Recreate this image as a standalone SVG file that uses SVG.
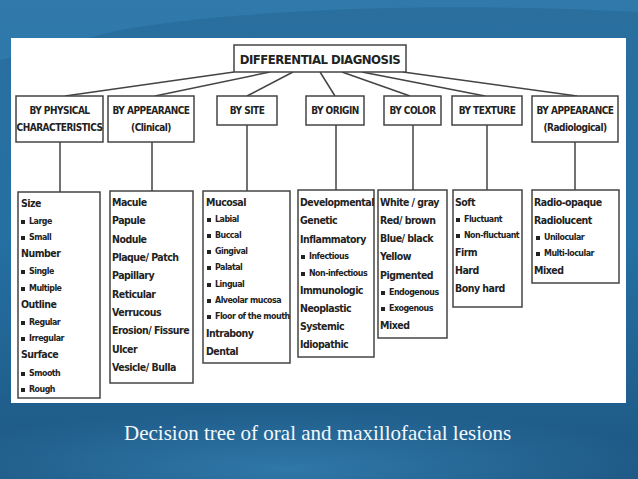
<svg xmlns="http://www.w3.org/2000/svg" xmlns:xlink="http://www.w3.org/1999/xlink" width="638" height="479" viewBox="0 0 638 479">
<defs>
<linearGradient id="bg" x1="0" y1="0" x2="0" y2="1">
<stop offset="0" stop-color="#2a6f9e"/><stop offset="0.5" stop-color="#2470a2"/><stop offset="1" stop-color="#1e5783"/>
</linearGradient>
<radialGradient id="glow" cx="0.45" cy="0.9" r="0.6">
<stop offset="0" stop-color="#3a8dc0" stop-opacity="0.6"/><stop offset="1" stop-color="#3a8dc0" stop-opacity="0"/>
</radialGradient>
<rect id="b" width="4" height="4" fill="#222"/>
</defs>
<style>
.box{fill:#fff;stroke:#444;stroke-width:1.5}
.c{stroke:#444;stroke-width:1.5;fill:none}
text{font-family:"DejaVu Sans Condensed","Liberation Sans",sans-serif;font-weight:bold;fill:#222;font-stretch:condensed;letter-spacing:-0.5px}
.h{font-size:10px;text-anchor:middle}
.m{font-size:10.5px}
.s{font-size:8.8px}
.cap{font-family:"Liberation Serif",serif;font-weight:normal;font-size:21px;fill:#f4f8fb;letter-spacing:0}
</style>
<rect width="638" height="479" fill="url(#bg)"/>
<rect y="380" width="638" height="99" fill="url(#glow)"/>
<path d="M0 0 H638 V12 C450 2 250 8 120 30 L0 60 Z" fill="#3b8cbf" opacity="0.35"/>
<rect x="11" y="38" width="615" height="365" fill="#fff"/>
<g id="connectors">
<path class="c" d="M234 72 L65 96 M270 72 L155 96 M293 72 L247 96 M320 72 L335 96 M342 72 L410 96 M362 72 L485 96 M403 72 L577 96"/>
<path class="c" d="M60 142 V192 M152 142 V191 M247 125 V191 M336 125 V190 M413 125 V190 M487 125 V190 M575 142 V190"/>
</g>
<g id="root"><rect class="box" x="234" y="45" width="172" height="27"/><text class="h" x="320" y="64" style="font-size:13px">DIFFERENTIAL DIAGNOSIS</text></g>
<g id="cat-physical"><rect class="box" x="16" y="96" width="87" height="46"/><text class="h" x="59.5" y="114">BY PHYSICAL</text><text class="h" x="59.5" y="131">CHARACTERISTICS</text></g>
<g id="cat-appearance"><rect class="box" x="108" y="96" width="86" height="46"/><text class="h" x="151" y="114">BY APPEARANCE</text><text class="h" x="151" y="131">(Clinical)</text></g>
<g id="cat-site"><rect class="box" x="217" y="96" width="60" height="29"/><text class="h" x="247" y="114">BY SITE</text></g>
<g id="cat-origin"><rect class="box" x="306" y="96" width="58" height="29"/><text class="h" x="335" y="114">BY ORIGIN</text></g>
<g id="cat-color"><rect class="box" x="384" y="96" width="57" height="29"/><text class="h" x="412.5" y="114">BY COLOR</text></g>
<g id="cat-texture"><rect class="box" x="452" y="96" width="70" height="29"/><text class="h" x="487" y="114">BY TEXTURE</text></g>
<g id="cat-radio"><rect class="box" x="532" y="96" width="86" height="46"/><text class="h" x="575" y="114">BY APPEARANCE</text><text class="h" x="575" y="131">(Radiological)</text></g>

<g id="list-physical"><rect class="box" x="18" y="192" width="82" height="206"/>
<text class="m" x="21" y="207">Size</text>
<use xlink:href="#b" x="21" y="220"/><text class="s" x="29" y="224">Large</text>
<use xlink:href="#b" x="21" y="236"/><text class="s" x="29" y="240">Small</text>
<text class="m" x="21" y="257">Number</text>
<use xlink:href="#b" x="21" y="270"/><text class="s" x="29" y="274">Single</text>
<use xlink:href="#b" x="21" y="287"/><text class="s" x="29" y="291">Multiple</text>
<text class="m" x="21" y="308">Outline</text>
<use xlink:href="#b" x="21" y="321"/><text class="s" x="29" y="325">Regular</text>
<use xlink:href="#b" x="21" y="337"/><text class="s" x="29" y="341">Irregular</text>
<text class="m" x="21" y="358">Surface</text>
<use xlink:href="#b" x="21" y="372"/><text class="s" x="29" y="376">Smooth</text>
<use xlink:href="#b" x="21" y="388"/><text class="s" x="29" y="392">Rough</text>
</g>
<g id="list-appearance"><rect class="box" x="110" y="191" width="83" height="192"/>
<text class="m" x="112" y="206">Macule</text>
<text class="m" x="112" y="224">Papule</text>
<text class="m" x="112" y="243">Nodule</text>
<text class="m" x="112" y="261">Plaque/ Patch</text>
<text class="m" x="112" y="279">Papillary</text>
<text class="m" x="112" y="298">Reticular</text>
<text class="m" x="112" y="316">Verrucous</text>
<text class="m" x="112" y="334">Erosion/ Fissure</text>
<text class="m" x="112" y="353">Ulcer</text>
<text class="m" x="112" y="371">Vesicle/ Bulla</text>
</g>
<g id="list-site"><rect class="box" x="203" y="191" width="87" height="172"/>
<text class="m" x="206" y="206">Mucosal</text>
<use xlink:href="#b" x="207" y="218"/><text class="s" x="215" y="222">Labial</text>
<use xlink:href="#b" x="207" y="234"/><text class="s" x="215" y="238">Buccal</text>
<use xlink:href="#b" x="207" y="250"/><text class="s" x="215" y="254">Gingival</text>
<use xlink:href="#b" x="207" y="266"/><text class="s" x="215" y="270">Palatal</text>
<use xlink:href="#b" x="207" y="283"/><text class="s" x="215" y="287">Lingual</text>
<use xlink:href="#b" x="207" y="299"/><text class="s" x="215" y="303">Alveolar mucosa</text>
<use xlink:href="#b" x="207" y="315"/><text class="s" x="215" y="319">Floor of the mouth</text>
<text class="m" x="206" y="337">Intrabony</text>
<text class="m" x="206" y="355">Dental</text>
</g>
<g id="list-origin"><rect class="box" x="298" y="190" width="76" height="167"/>
<text class="m" x="300" y="206">Developmental</text>
<text class="m" x="300" y="224">Genetic</text>
<text class="m" x="300" y="243">Inflammatory</text>
<use xlink:href="#b" x="301" y="255"/><text class="s" x="309" y="259">Infectious</text>
<use xlink:href="#b" x="301" y="272"/><text class="s" x="309" y="276">Non-infectious</text>
<text class="m" x="300" y="294">Immunologic</text>
<text class="m" x="300" y="312">Neoplastic</text>
<text class="m" x="300" y="330">Systemic</text>
<text class="m" x="300" y="348">Idiopathic</text>
</g>
<g id="list-color"><rect class="box" x="378" y="190" width="69" height="148"/>
<text class="m" x="380" y="206">White / gray</text>
<text class="m" x="380" y="224">Red/ brown</text>
<text class="m" x="380" y="242">Blue/ black</text>
<text class="m" x="380" y="260">Yellow</text>
<text class="m" x="380" y="279">Pigmented</text>
<use xlink:href="#b" x="381" y="291"/><text class="s" x="389" y="295">Endogenous</text>
<use xlink:href="#b" x="381" y="307"/><text class="s" x="389" y="311">Exogenous</text>
<text class="m" x="380" y="329">Mixed</text>
</g>
<g id="list-texture"><rect class="box" x="453" y="190" width="69" height="117"/>
<text class="m" x="455" y="206">Soft</text>
<use xlink:href="#b" x="456" y="218"/><text class="s" x="464" y="222">Fluctuant</text>
<use xlink:href="#b" x="456" y="234"/><text class="s" x="464" y="238">Non-fluctuant</text>
<text class="m" x="455" y="256">Firm</text>
<text class="m" x="455" y="274">Hard</text>
<text class="m" x="455" y="292">Bony hard</text>
</g>
<g id="list-radio"><rect class="box" x="532" y="190" width="87" height="93"/>
<text class="m" x="534" y="206">Radio-opaque</text>
<text class="m" x="534" y="224">Radiolucent</text>
<use xlink:href="#b" x="536" y="236"/><text class="s" x="544" y="240">Unilocular</text>
<use xlink:href="#b" x="536" y="252"/><text class="s" x="544" y="256">Multi-locular</text>
<text class="m" x="534" y="274">Mixed</text>
</g>
<text class="cap" x="124" y="440">Decision tree of oral and maxillofacial lesions</text>
</svg>
